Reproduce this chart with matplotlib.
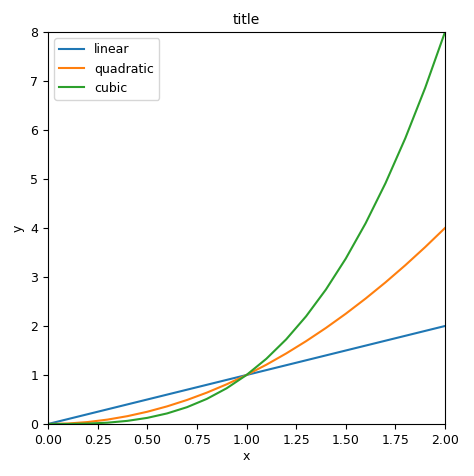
import matplotlib
matplotlib.use("Agg")
import matplotlib.pyplot as plt

x = [0.0, 0.1, 0.2, 0.3, 0.4, 0.5, 0.6, 0.7, 0.8, 0.9, 1.0,
     1.1, 1.2, 1.3, 1.4, 1.5, 1.6, 1.7, 1.8, 1.9, 2.0]
linear = [0.0, 0.1, 0.2, 0.3, 0.4, 0.5, 0.6, 0.7, 0.8, 0.9, 1.0,
          1.1, 1.2, 1.3, 1.4, 1.5, 1.6, 1.7, 1.8, 1.9, 2.0]
quadratic = [0.0, 0.01, 0.04, 0.09, 0.16, 0.25, 0.36, 0.49, 0.64, 0.81, 1.0,
             1.21, 1.44, 1.69, 1.96, 2.25, 2.56, 2.89, 3.24, 3.61, 4.0]
cubic = [0.0, 0.001, 0.008, 0.027, 0.064, 0.125, 0.216, 0.343, 0.512, 0.729, 1.0,
         1.331, 1.728, 2.197, 2.744, 3.375, 4.096, 4.913, 5.832, 6.859, 8.0]

plt.rcParams["font.size"] = 9

fig = plt.figure(figsize=(4.74, 4.76), dpi=100)
ax = fig.add_axes([48 / 474, 52 / 476, 397 / 474, 392 / 476])
ax.plot(x, linear, label="linear")
ax.plot(x, quadratic, label="quadratic")
ax.plot(x, cubic, label="cubic")
ax.set_xlim(0, 2)
ax.set_ylim(0, 8)
ax.set_xlabel("x", labelpad=2)
ax.set_ylabel("y")
ax.set_title("title", fontsize=10)
ax.legend(loc="upper left")
fig.savefig("out.png", dpi=100)
